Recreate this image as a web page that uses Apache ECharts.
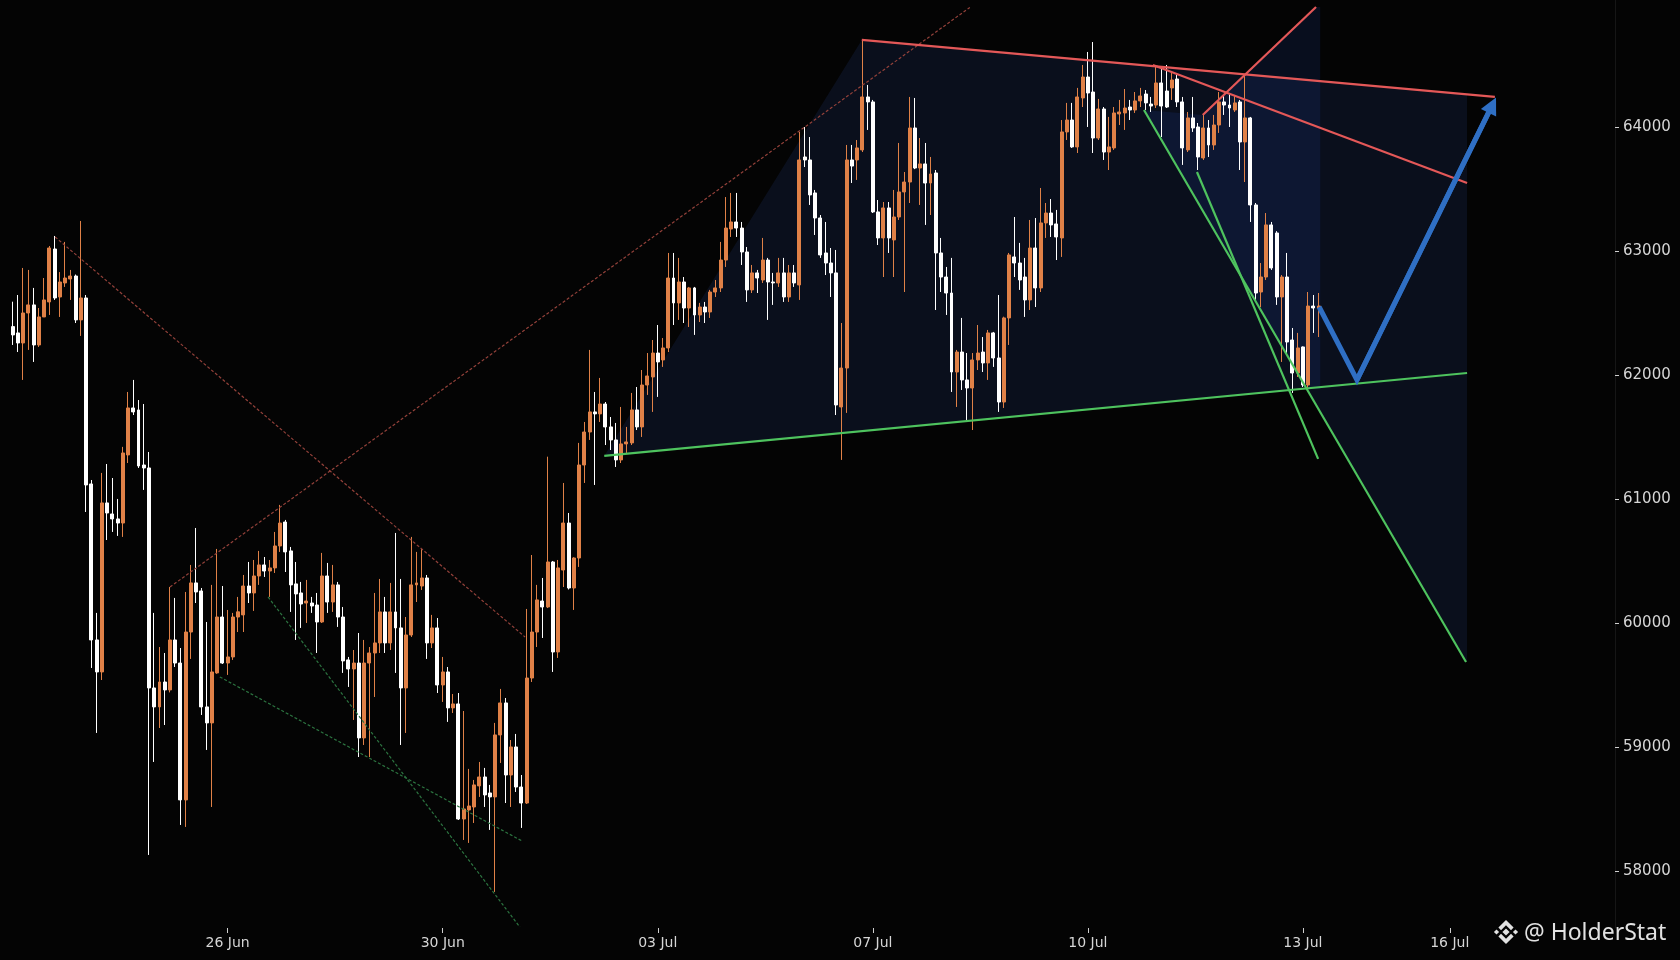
<!DOCTYPE html>
<html>
<head>
<meta charset="utf-8">
<script src="https://cdn.jsdelivr.net/npm/echarts@6/dist/echarts.min.js"></script>
<style>
  html, body { margin: 0; padding: 0; background: #040404; }
  #main { width: 1680px; height: 960px; }
</style>
</head>
<body>
<div id="main"></div>
<script type="text/javascript">
    // candles, one per slot from the left edge
    var opens = [
        62390, 62339, 62258, 62500, 62565, 62242, 62468, 62589, 63016, 62629,
        62742, 62774, 62798, 62444, 62621, 61121, 59863, 59605, 60968, 60879,
        60839, 60806, 61355, 61734, 61718, 61274, 61250, 59476, 59323, 59524,
        59460, 59863, 59677, 58573, 59927, 60323, 60258, 59323, 59194, 59597,
        60048, 59677, 59726, 60048, 60065, 60298, 60242, 60379, 60468, 60419,
        60444, 60621, 60814, 60581, 60315, 60242, 60161, 60161, 60145, 60008,
        60379, 60169, 60307, 60048, 59702, 59629, 59677, 59073, 59677, 59758,
        59839, 60089, 59839, 60089, 59960, 59476, 59903, 60307, 60298, 60363,
        59839, 59960, 59500, 59605, 59315, 59347, 58419, 58492, 58516, 58686,
        58758, 58629, 58597, 59097, 59355, 58774, 59000, 58677, 58548, 59556,
        59927, 60177, 60129, 60492, 59766, 60427, 60806, 60282, 60524, 61274,
        61540, 61702, 61686, 61766, 61581, 61476, 61315, 61444, 61452, 61718,
        61581, 61919, 61984, 62177, 62121, 62218, 62782, 62581, 62750, 62540,
        62702, 62484, 62548, 62508, 62669, 62702, 62927, 63177, 63234, 63185,
        62992, 62686, 62823, 62766, 62927, 62750, 62742, 62823, 62629, 62823,
        62726, 63758, 63734, 63468, 63266, 62984, 62903, 62823, 61742, 62056,
        63734, 63734, 63815, 64242, 64202, 63315, 63105, 63347, 63089, 63274,
        63476, 63556, 63992, 63669, 63702, 63548, 63629, 62984, 62790, 62661,
        62024, 62185, 61960, 61895, 62121, 62185, 62097, 62339, 62137, 61782,
        62460, 62952, 62903, 62790, 62605, 63024, 62702, 63226, 63306, 63218,
        63105, 63960, 64056, 63839, 64234, 64403, 64282, 63911, 64145, 63798,
        63831, 64105, 64113, 64161, 64137, 64210, 64266, 64185, 64177, 64355,
        64290, 64315, 64387, 64202, 63815, 64073, 64000, 63750, 63992, 63855,
        64016, 64202, 64177, 64137, 64202, 63879, 64073, 63371, 62669, 62790,
        63210, 63145, 62629, 62790, 62282, 62016, 62226, 61919, 62556, 62540
    ];
    var closes = [
        62323, 62258, 62500, 62565, 62242, 62468, 62605, 63024, 62621, 62750,
        62782, 62798, 62444, 62621, 61113, 59863, 59605, 60968, 60887, 60839,
        60806, 61371, 61734, 61702, 61266, 61250, 59476, 59323, 59524, 59460,
        59863, 59677, 58573, 59927, 60323, 60250, 59323, 59194, 59605, 60048,
        59677, 59726, 60048, 60090, 60298, 60242, 60379, 60468, 60419, 60444,
        60621, 60806, 60573, 60307, 60234, 60153, 60177, 60137, 60008, 60379,
        60169, 60307, 60048, 59694, 59629, 59677, 59073, 59677, 59758, 59839,
        60089, 59839, 60089, 59960, 59476, 59903, 60307, 60323, 60363, 59839,
        59960, 59500, 59605, 59315, 59347, 58419, 58500, 58524, 58694, 58758,
        58613, 58597, 59097, 59355, 58774, 59000, 58677, 58548, 59556, 59927,
        60186, 60129, 60492, 59766, 60444, 60806, 60282, 60524, 61274, 61540,
        61702, 61686, 61766, 61581, 61476, 61315, 61444, 61460, 61718, 61581,
        61919, 61992, 62177, 62105, 62218, 62782, 62581, 62750, 62540, 62702,
        62484, 62548, 62508, 62669, 62702, 62927, 63185, 63234, 63185, 62992,
        62686, 62823, 62782, 62927, 62750, 62742, 62823, 62629, 62823, 62742,
        63734, 63734, 63452, 63266, 62968, 62903, 62823, 61758, 62056, 63734,
        63685, 63831, 64242, 64202, 63315, 63105, 63347, 63105, 63274, 63476,
        63556, 63992, 63669, 63702, 63548, 63621, 62984, 62790, 62661, 62024,
        62185, 61960, 61895, 62121, 62177, 62097, 62339, 62137, 61782, 62460,
        62968, 62903, 62766, 62605, 63024, 62702, 63226, 63306, 63210, 63113,
        63960, 64056, 63839, 64242, 64403, 64274, 63911, 64145, 63798, 63839,
        64113, 64121, 64153, 64137, 64210, 64250, 64194, 64169, 64355, 64169,
        64161, 64379, 64202, 63831, 64073, 63992, 63758, 63992, 63855, 64016,
        64202, 64177, 64153, 64194, 63879, 64073, 63371, 62661, 62790, 63210,
        62863, 62629, 62790, 62266, 62016, 62218, 61919, 62556, 62540, 62556
    ];
    var lows = [
        62242, 62185, 61960, 62202, 62105, 62226, 62468, 62484, 62605, 62468,
        62710, 62605, 62419, 62315, 60895, 59637, 59113, 59540, 60669, 60734,
        60702, 60694, 61290, 61677, 61250, 61073, 58129, 58879, 59153, 59177,
        59440, 59645, 58371, 58355, 59710, 60161, 59258, 58976, 58516, 59590,
        59669, 59581, 59702, 59927, 59927, 60161, 60097, 60307, 60371, 60210,
        60403, 60573, 60411, 60089, 59863, 59960, 60000, 60081, 59758, 60000,
        60081, 60089, 59968, 59597, 59484, 59218, 58919, 59016, 58919, 59403,
        59758, 59758, 59782, 59597, 59016, 59113, 59887, 60169, 60266, 59710,
        59798, 59435, 59363, 59202, 59274, 58411, 58250, 58226, 58387, 58597,
        58516, 58331, 57831, 58871, 58548, 58516, 58637, 58347, 58540, 59524,
        59806, 59879, 60120, 59605, 59718, 60290, 60270, 60105, 60452, 61129,
        61476, 61113, 61621, 61435, 61395, 61258, 61290, 61371, 61435, 61556,
        61500, 61839, 61702, 61823, 62065, 62185, 62403, 62444, 62419, 62387,
        62323, 62427, 62419, 62460, 62629, 62669, 62871, 63113, 63113, 62887,
        62589, 62661, 62661, 62742, 62444, 62565, 62710, 62589, 62589, 62710,
        62605, 63677, 63371, 63129, 62944, 62806, 62629, 61677, 61315, 61694,
        63548, 63573, 63798, 63976, 63306, 63048, 62790, 62984, 62790, 63250,
        62669, 63387, 63660, 63371, 63210, 63290, 62524, 62669, 62484, 61863,
        61742, 61879, 61637, 61556, 62040, 62024, 61960, 62065, 61702, 61734,
        62242, 62790, 62686, 62468, 62524, 62548, 62669, 63105, 63113, 62927,
        62952, 63895, 63831, 63790, 64161, 64000, 63790, 63895, 63734, 63653,
        63815, 64016, 63976, 64056, 64113, 64161, 64137, 64121, 64153, 63919,
        64153, 64218, 64161, 63694, 63798, 63960, 63653, 63734, 63758, 63815,
        63952, 64097, 64000, 64121, 63653, 63556, 63234, 62605, 62548, 62766,
        62847, 62565, 62105, 62177, 61855, 61984, 61903, 61895, 62339, 62306
    ];
    var highs = [
        62591, 62645, 62863, 62847, 62702, 62540, 62782, 63040, 63121, 62830,
        63073, 62847, 62810, 63242, 62645, 61153, 60081, 61210, 61282, 61169,
        61000, 61420, 61863, 61960, 61798, 61766, 61379, 60081, 59806, 59758,
        60290, 60202, 59798, 60250, 60468, 60766, 60282, 60008, 60307, 60597,
        60298, 60105, 60081, 60210, 60387, 60492, 60508, 60581, 60532, 60508,
        60734, 60952, 60831, 60613, 60492, 60331, 60347, 60210, 60242, 60565,
        60484, 60468, 60331, 60129, 59726, 59782, 59919, 59863, 59806, 60242,
        60355, 60210, 60323, 60726, 60355, 60048, 60694, 60573, 60597, 60387,
        60065, 60040, 59726, 59645, 59427, 59435, 59290, 58823, 58734, 58879,
        58831, 58694, 59194, 59468, 59395, 59056, 59105, 58774, 60113, 60548,
        60307, 60363, 61341, 60500, 60508, 61129, 60887, 60530, 61452, 61621,
        62202, 61863, 61976, 61782, 61661, 61613, 61742, 61581, 61855, 61903,
        62040, 62177, 62282, 62403, 62298, 62984, 62984, 62944, 62790, 62710,
        62710, 62581, 62589, 62686, 62766, 63073, 63435, 63468, 63468, 63234,
        63032, 62887, 62847, 63105, 62944, 62823, 62944, 62944, 62887, 62887,
        63960, 64000, 63919, 63492, 63290, 63234, 63024, 63008, 62419, 63855,
        63855, 63895, 64702, 64339, 64218, 63411, 63395, 63395, 63492, 63871,
        63637, 64242, 64234, 63911, 63871, 63758, 63653, 63105, 62871, 62944,
        62202, 62460, 62177, 62177, 62403, 62306, 62363, 62347, 62645, 62470,
        62984, 63274, 63065, 62944, 63250, 63266, 63508, 63387, 63419, 63331,
        64056, 64194, 64194, 64315, 64500, 64605, 64685, 64226, 64161, 64081,
        64161, 64218, 64306, 64218, 64282, 64315, 64298, 64242, 64500, 64484,
        64500, 64435, 64419, 64242, 64121, 64242, 64032, 64097, 64056, 64097,
        64282, 64258, 64274, 64258, 64218, 64419, 64081, 63387, 62903, 63306,
        63234, 63160, 62806, 62984, 62379, 62339, 62230, 62669, 62645, 62661
    ];

    // x slots (candles plus empty room on the right) and the date ticks
    var slotCount = 306;
    var tickIdx = [41, 82, 123, 164, 205, 246, 274];
    var tickText = ['26 Jun', '30 Jun', '03 Jul', '07 Jul', '10 Jul', '13 Jul', '16 Jul'];
    var priceTicks = [58000, 59000, 60000, 61000, 62000, 63000, 64000];

    // drawings, each point is [slot, price]
    var redDash = [
        [[8.1, 63113], [97.7, 59887]],
        [[30.0, 60290], [182.5, 64964]]
    ];
    var greenDash = [
        [[39.5, 59565], [97.1, 58242]],
        [[48.7, 60210], [96.7, 57548]]
    ];
    var redSolid = [
        [[161.9, 64702], [282.6, 64242]],
        [[217.4, 64500], [277.3, 63548]],
        [[226.9, 64097], [248.5, 64968]]
    ];
    var greenSolid = [
        [[112.8, 61347], [277.3, 62016]],
        [[215.7, 64137], [277.1, 59685]],
        [[225.8, 63637], [248.9, 61323]]
    ];
    var arrowPath = [[249.1, 62548], [256.3, 61960], [282.1, 64177]];
    var shadeOuter = [[112.8, 61347], [161.9, 64702], [277.3, 64262], [277.3, 59685], [246.8, 61887]];
    var shadeInner = [[215.7, 64137], [226.9, 64097], [248.5, 64968], [249.3, 64968], [249.3, 61887], [246.8, 61887]];

    var slots = [];
    for (var i = 0; i < slotCount; i++) {
        slots.push(String(i));
    }
    var candles = [];
    for (var j = 0; j < opens.length; j++) {
        candles.push([opens[j], closes[j], lows[j], highs[j]]);
    }

    var shadePolys = [shadeOuter, shadeInner];
    var shadeFills = ['rgba(40,70,150,0.17)', 'rgba(30,70,170,0.16)'];

    function segs(list, style) {
        return list.map(function (s) {
            return {coords: s, lineStyle: style};
        });
    }
    var trendLines = []
        .concat(segs(redDash, {color: '#93413a', width: 1.2, type: [3, 2], opacity: 1}))
        .concat(segs(greenDash, {color: '#2c7440', width: 1.2, type: [3, 2], opacity: 1}))
        .concat(segs(redSolid, {color: '#e45858', width: 2.2, opacity: 1}))
        .concat(segs(greenSolid, {color: '#4ec35e', width: 2.2, opacity: 1}));

    var isTick = function (index) {
        return tickIdx.indexOf(index) >= 0;
    };

    var myChart = echarts.init(document.getElementById('main'));
    myChart.setOption({
        backgroundColor: '#040404',
        animation: false,
        grid: {
            left: 10,
            right: 65,
            top: 0,
            bottom: 32
        },
        xAxis: [
            {
                type: 'category',
                data: slots,
                boundaryGap: true,
                axisLine: {show: false},
                axisTick: {
                    show: true,
                    alignWithLabel: true,
                    interval: isTick,
                    length: 5,
                    lineStyle: {color: '#cfcfcf'}
                },
                axisLabel: {
                    interval: isTick,
                    margin: 8,
                    color: '#d6d6d6',
                    fontFamily: 'DejaVu Sans',
                    fontSize: 14,
                    formatter: function (val) {
                        var k = tickIdx.indexOf(Number(val));
                        return k >= 0 ? tickText[k] : '';
                    }
                },
                splitLine: {show: false}
            },
            {
                type: 'value',
                min: -0.5,
                max: slotCount - 0.5,
                show: false
            }
        ],
        yAxis: {
            type: 'value',
            position: 'right',
            min: 57540,
            max: 65024,
            scale: true,
            splitLine: {show: false},
            axisLine: {show: true, onZero: false, lineStyle: {color: '#161616'}},
            axisTick: {
                show: true,
                length: 4,
                customValues: priceTicks,
                lineStyle: {color: '#cfcfcf'}
            },
            axisLabel: {
                margin: 8,
                customValues: priceTicks,
                color: '#d6d6d6',
                fontFamily: 'DejaVu Sans',
                fontSize: 15,
                formatter: function (v) {
                    return String(v);
                }
            }
        },
        series: [
            {
                type: 'custom',
                xAxisIndex: 1,
                yAxisIndex: 0,
                z: 1,
                silent: true,
                data: [[0, 60000], [1, 60000]],
                encode: {x: 0, y: 1},
                renderItem: function (params, api) {
                    var pts = shadePolys[params.dataIndex].map(function (p) {
                        return api.coord(p);
                    });
                    return {
                        type: 'polygon',
                        shape: {points: pts},
                        style: {fill: shadeFills[params.dataIndex]}
                    };
                }
            },
            {
                type: 'candlestick',
                xAxisIndex: 0,
                yAxisIndex: 0,
                z: 2,
                barWidth: '66%',
                data: candles,
                itemStyle: {
                    color: '#e08147',
                    color0: '#ffffff',
                    borderColor: '#e08147',
                    borderColor0: '#ffffff',
                    borderWidth: 1
                }
            },
            {
                type: 'lines',
                coordinateSystem: 'cartesian2d',
                xAxisIndex: 1,
                yAxisIndex: 0,
                z: 3,
                silent: true,
                data: trendLines
            },
            {
                type: 'line',
                xAxisIndex: 1,
                yAxisIndex: 0,
                z: 4,
                silent: true,
                showSymbol: false,
                symbol: 'none',
                data: arrowPath,
                lineStyle: {color: '#2f6fc4', width: 5, join: 'miter'}
            },
            {
                type: 'lines',
                coordinateSystem: 'cartesian2d',
                xAxisIndex: 1,
                yAxisIndex: 0,
                z: 4,
                silent: true,
                symbol: ['none', 'triangle'],
                symbolSize: 17,
                data: [{coords: [arrowPath[1], arrowPath[2]]}],
                lineStyle: {color: '#2f6fc4', width: 5, opacity: 1}
            }
        ],
        graphic: [
            {
                type: 'group',
                x: 1506,
                y: 932,
                children: [
                    {type: 'polygon', shape: {points: [[0, -3.6], [3.6, 0], [0, 3.6], [-3.6, 0]]}, style: {fill: '#e2e2e2'}},
                    {type: 'polygon', shape: {points: [[-9.5, -2.6], [-6.9, 0], [-9.5, 2.6], [-12.1, 0]]}, style: {fill: '#e2e2e2'}},
                    {type: 'polygon', shape: {points: [[9.5, -2.6], [12.1, 0], [9.5, 2.6], [6.9, 0]]}, style: {fill: '#e2e2e2'}},
                    {type: 'polygon', shape: {points: [[0, -12], [7.6, -4.4], [5, -1.8], [0, -6.8], [-5, -1.8], [-7.6, -4.4]]}, style: {fill: '#e2e2e2'}},
                    {type: 'polygon', shape: {points: [[0, 12], [7.6, 4.4], [5, 1.8], [0, 6.8], [-5, 1.8], [-7.6, 4.4]]}, style: {fill: '#e2e2e2'}}
                ]
            },
            {
                type: 'text',
                x: 1524,
                y: 933,
                style: {
                    text: '@ HolderStat',
                    fill: '#e2e2e2',
                    fontFamily: 'Noto Sans',
                    fontSize: 23,
                    verticalAlign: 'middle'
                }
            }
        ]
    });
</script>
</body>
</html>
